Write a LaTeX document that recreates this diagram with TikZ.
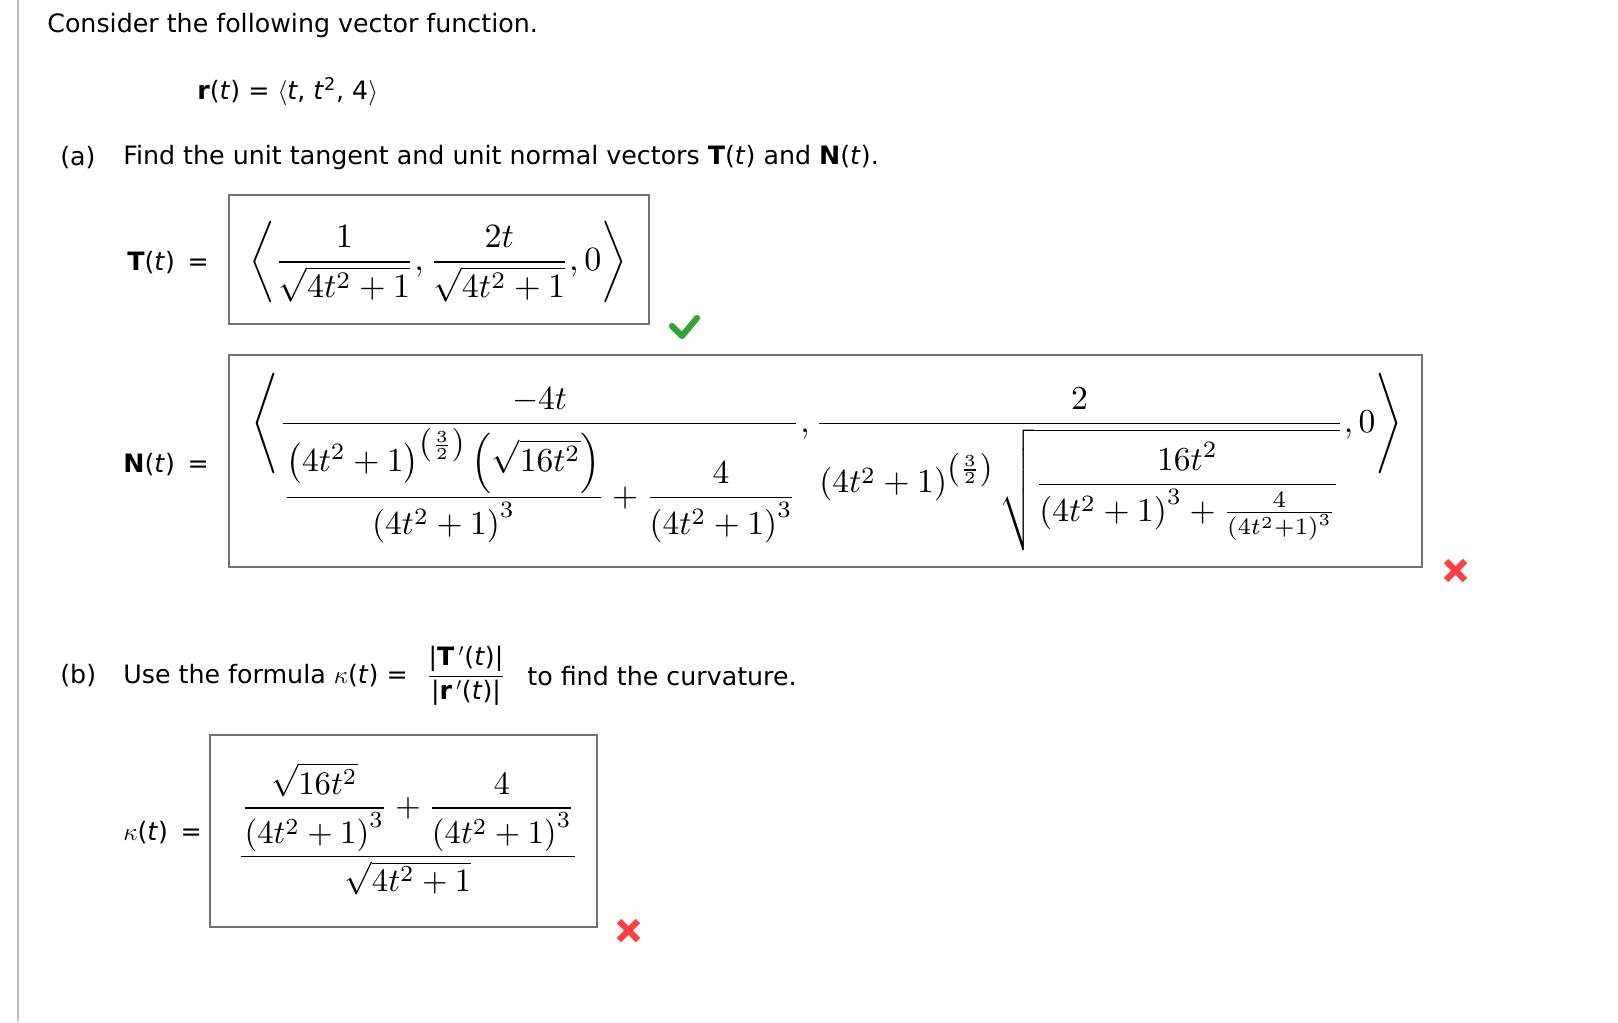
\documentclass[tikz,border=0pt]{standalone}
\usepackage{amsmath}
\usepackage{fontspec}
\setmainfont{DejaVu Sans}
\usepackage{graphicx}
\begin{document}
\begin{tikzpicture}[x=0.02cm,y=-0.02cm,
  txt/.style={anchor=west,inner sep=0pt,font=\fontsize{14.4}{17}\selectfont},
  ansbox/.style={draw=black!55,line width=0.9pt},
  fml/.style={inner sep=0pt}]
\useasboundingbox[fill=white] (0,0) rectangle (1618,1022);
\draw[black!25,line width=1pt] (18,0) -- (18,1022);
\node[txt] (intro) at (47,26) {Consider the following vector function.};
\node[txt] (rt) at (197,92) {\textbf{r}(\textit{t}) = $\langle$\textit{t}, \textit{t}\textsuperscript{2}, 4$\rangle$};
\node[txt] (pa) at (60,158) {(a)};
\node[txt] (qa) at (123,158) {Find the unit tangent and unit normal vectors \textbf{T}(\textit{t}) and \textbf{N}(\textit{t}).};
\node[txt] (Tl) at (127,263) {\textbf{T}(\textit{t})\enspace =};
\draw[ansbox] (229,195) rectangle (649,324);
\node[fml] (Tf) at (438,262) {\resizebox{215pt}{!}{$\displaystyle\left\langle\frac{1}{\sqrt{4t^2+1}},\frac{2t}{\sqrt{4t^2+1}},0\right\rangle$}};
\draw[green!55!black!80,line width=3.5pt,line cap=round,line join=round] (672,326) -- (682,336) -- (697,318);
\node[txt] (Nl) at (123,465) {\textbf{N}(\textit{t})\enspace =};
\draw[ansbox] (229,355) rectangle (1422,567);
\node[fml] (Nf) at (827,462) {\resizebox{655pt}{!}{$\displaystyle\left\langle\frac{-4t}{\dfrac{\left(4t^2+1\right)^{\left(\frac{3}{2}\right)}\left(\sqrt{16t^2}\right)}{\left(4t^2+1\right)^3}+\dfrac{4}{\left(4t^2+1\right)^3}},\frac{2}{\left(4t^2+1\right)^{\left(\frac{3}{2}\right)}\sqrt{\dfrac{16t^2}{\left(4t^2+1\right)^3+\frac{4}{\left(4t^2+1\right)^3}}}},0\right\rangle$}};
\draw[red!75,line width=3.5pt] (1446,561) -- (1465,580) (1446,580) -- (1465,561);
\node[txt] (pb) at (60,676) {(b)};
\node[txt] (qb) at (123,676) {Use the formula $\kappa$(\textit{t}) =};
\node[inner sep=1pt,font=\fontsize{14.4}{17}\selectfont] (kf) at (466,676) {$\dfrac{\text{|\textbf{T}\,$'$(\textit{t})|}}{\text{|\textbf{r}\,$'$(\textit{t})|}}$};
\node[txt] (qb2) at (527,676) {to find the curvature.};
\node[txt] (kl) at (123,833) {$\kappa$(\textit{t})\enspace =};
\draw[ansbox] (210,735) rectangle (597,927);
\node[fml] (Kf) at (408,829) {\resizebox{195pt}{!}{$\displaystyle\frac{\dfrac{\sqrt{16t^2}}{\left(4t^2+1\right)^3}+\dfrac{4}{\left(4t^2+1\right)^3}}{\sqrt{4t^2+1}}$}};
\draw[red!75,line width=3.5pt] (619,921) -- (638,940) (619,940) -- (638,921);
\end{tikzpicture}
\end{document}
